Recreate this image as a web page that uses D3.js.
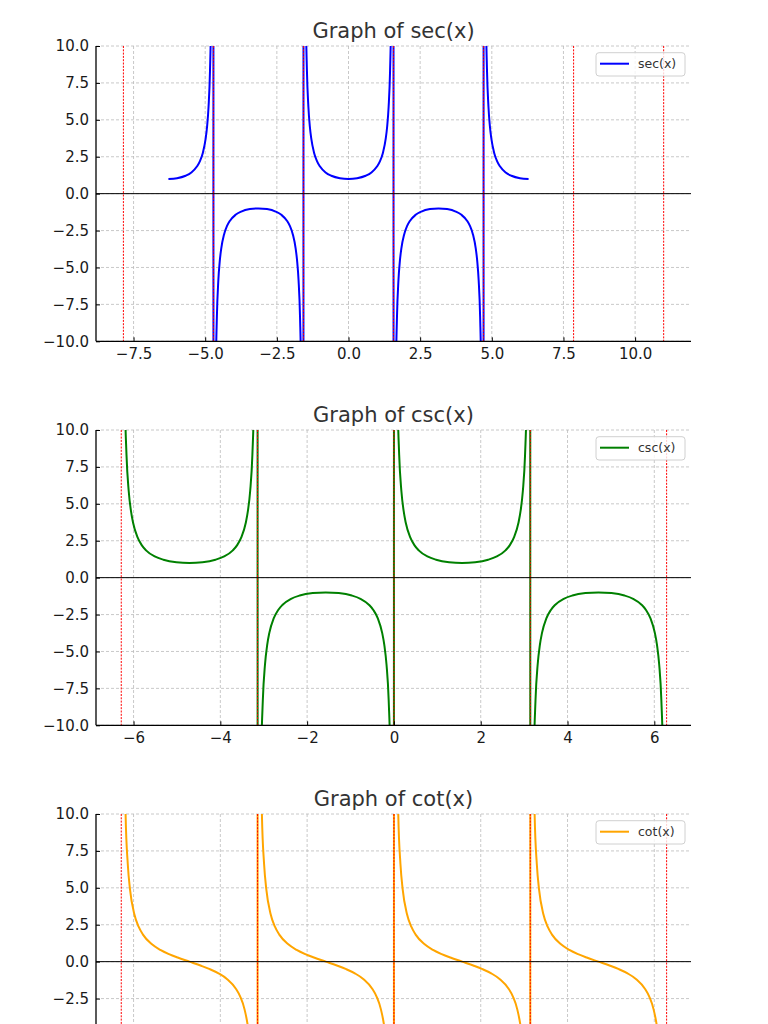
<!DOCTYPE html>
<html>
<head>
<meta charset="utf-8">
<script src="https://cdn.jsdelivr.net/npm/d3@7"></script>
<style>
  html, body { margin: 0; padding: 0; background: #fff; }
  svg { display: block; font-family: "DejaVu Sans", sans-serif; }
</style>
</head>
<body>
<div id="chart"></div>
<script>
// ---------------- data ----------------
const yTicks = [-10, -7.5, -5, -2.5, 0, 2.5, 5, 7.5, 10];
const secXTicks = [-7.5, -5, -2.5, 0, 2.5, 5, 7.5, 10];
const trigXTicks = [-6, -4, -2, 0, 2, 4, 6];

const secAsymptotes = [-7.854, -4.712, -1.571, 1.571, 4.712, 7.854, 10.996];
const cscAsymptotes = [-6.283, -3.142, 0, 3.142, 6.283];
const cotAsymptotes = [-6.283, -3.142, 0, 3.142, 6.283];

const secX = [
  -6.283, -5.983, -5.683, -5.483, -5.283, -5.183, -5.083, -4.983, -4.933, -4.883, -4.833, -4.783, -4.733, -4.718,
  -4.707, -4.692, -4.642, -4.592, -4.542, -4.492, -4.442, -4.342, -4.242, -4.142, -3.942, -3.742, -3.442, -3.142,
  -2.842, -2.542, -2.342, -2.142, -2.042, -1.942, -1.842, -1.792, -1.742, -1.692, -1.642, -1.592, -1.577,
  -1.565, -1.55, -1.5, -1.45, -1.4, -1.35, -1.3, -1.2, -1.1, -1.0, -0.8, -0.6, -0.3, 0,
  0.3, 0.6, 0.8, 1.0, 1.1, 1.2, 1.3, 1.35, 1.4, 1.45, 1.5, 1.55, 1.565,
  1.577, 1.592, 1.642, 1.692, 1.742, 1.792, 1.842, 1.942, 2.042, 2.142, 2.342, 2.542, 2.842, 3.142,
  3.442, 3.742, 3.942, 4.142, 4.242, 4.342, 4.442, 4.492, 4.542, 4.592, 4.642, 4.692, 4.707,
  4.718, 4.733, 4.783, 4.833, 4.883, 4.933, 4.983, 5.083, 5.183, 5.283, 5.483, 5.683, 5.983, 6.283
];
const secY = [
  1, 1.047, 1.212, 1.435, 1.851, 2.205, 2.760, 3.738, 4.566, 5.884, 8.299, 14.14, 48.09, 172.5,
  -172.5, -48.09, -14.14, -8.299, -5.884, -4.566, -3.738, -2.760, -2.205, -1.851, -1.435, -1.212, -1.047, -1,
  -1.047, -1.212, -1.435, -1.851, -2.205, -2.760, -3.738, -4.566, -5.884, -8.299, -14.14, -48.09, -172.5,
  172.5, 48.09, 14.14, 8.299, 5.884, 4.566, 3.738, 2.760, 2.205, 1.851, 1.435, 1.212, 1.047, 1,
  1.047, 1.212, 1.435, 1.851, 2.205, 2.760, 3.738, 4.566, 5.884, 8.299, 14.14, 48.09, 172.5,
  -172.5, -48.09, -14.14, -8.299, -5.884, -4.566, -3.738, -2.760, -2.205, -1.851, -1.435, -1.212, -1.047, -1,
  -1.047, -1.212, -1.435, -1.851, -2.205, -2.760, -3.738, -4.566, -5.884, -8.299, -14.14, -48.09, -172.5,
  172.5, 48.09, 14.14, 8.299, 5.884, 4.566, 3.738, 2.760, 2.205, 1.851, 1.435, 1.212, 1.047, 1
];

const cscX = [
  -6.277, -6.262, -6.212, -6.162, -6.112, -6.062, -6.012, -5.912, -5.812, -5.712, -5.512, -5.312, -5.012, -4.712,
  -4.412, -4.112, -3.912, -3.712, -3.612, -3.512, -3.412, -3.362, -3.312, -3.262, -3.212, -3.162, -3.147,
  -3.136, -3.121, -3.071, -3.021, -2.971, -2.921, -2.871, -2.771, -2.671, -2.571, -2.371, -2.171, -1.871, -1.571,
  -1.271, -0.971, -0.771, -0.571, -0.471, -0.371, -0.271, -0.221, -0.171, -0.121, -0.071, -0.021, -0.006,
  0.006, 0.021, 0.071, 0.121, 0.171, 0.221, 0.271, 0.371, 0.471, 0.571, 0.771, 0.971, 1.271, 1.571,
  1.871, 2.171, 2.371, 2.571, 2.671, 2.771, 2.871, 2.921, 2.971, 3.021, 3.071, 3.121, 3.136,
  3.147, 3.162, 3.212, 3.262, 3.312, 3.362, 3.412, 3.512, 3.612, 3.712, 3.912, 4.112, 4.412, 4.712,
  5.012, 5.312, 5.512, 5.712, 5.812, 5.912, 6.012, 6.062, 6.112, 6.162, 6.212, 6.262, 6.277
];
const cscY = [
  172.5, 48.09, 14.14, 8.299, 5.884, 4.566, 3.738, 2.760, 2.205, 1.851, 1.435, 1.212, 1.047, 1,
  1.047, 1.212, 1.435, 1.851, 2.205, 2.760, 3.738, 4.566, 5.884, 8.299, 14.14, 48.09, 172.5,
  -172.5, -48.09, -14.14, -8.299, -5.884, -4.566, -3.738, -2.760, -2.205, -1.851, -1.435, -1.212, -1.047, -1,
  -1.047, -1.212, -1.435, -1.851, -2.205, -2.760, -3.738, -4.566, -5.884, -8.299, -14.14, -48.09, -172.5,
  172.5, 48.09, 14.14, 8.299, 5.884, 4.566, 3.738, 2.760, 2.205, 1.851, 1.435, 1.212, 1.047, 1,
  1.047, 1.212, 1.435, 1.851, 2.205, 2.760, 3.738, 4.566, 5.884, 8.299, 14.14, 48.09, 172.5,
  -172.5, -48.09, -14.14, -8.299, -5.884, -4.566, -3.738, -2.760, -2.205, -1.851, -1.435, -1.212, -1.047, -1,
  -1.047, -1.212, -1.435, -1.851, -2.205, -2.760, -3.738, -4.566, -5.884, -8.299, -14.14, -48.09, -172.5
];

const cotX = [
  -6.277, -6.263, -6.233, -6.183, -6.133, -6.083, -5.983, -5.883, -5.783, -5.583, -5.383, -5.183, -4.983, -4.712,
  -4.442, -4.242, -4.042, -3.842, -3.642, -3.542, -3.442, -3.342, -3.292, -3.242, -3.192, -3.162, -3.148,
  -3.136, -3.122, -3.092, -3.042, -2.992, -2.942, -2.842, -2.742, -2.642, -2.442, -2.242, -2.042, -1.842, -1.571,
  -1.300, -1.100, -0.900, -0.700, -0.500, -0.400, -0.300, -0.200, -0.150, -0.100, -0.050, -0.020, -0.006,
  0.006, 0.020, 0.050, 0.100, 0.150, 0.200, 0.300, 0.400, 0.500, 0.700, 0.900, 1.100, 1.300, 1.571,
  1.842, 2.042, 2.242, 2.442, 2.642, 2.742, 2.842, 2.942, 2.992, 3.042, 3.092, 3.122, 3.136,
  3.148, 3.162, 3.192, 3.242, 3.292, 3.342, 3.442, 3.542, 3.642, 3.842, 4.042, 4.242, 4.442, 4.712,
  4.983, 5.183, 5.383, 5.583, 5.783, 5.883, 5.983, 6.083, 6.133, 6.183, 6.233, 6.263, 6.277
];
const cotY = [
  166.7, 49.99, 19.98, 9.967, 6.617, 4.933, 3.233, 2.365, 1.830, 1.187, 0.7936, 0.5090, 0.2776, 0,
  -0.2776, -0.5090, -0.7936, -1.187, -1.830, -2.365, -3.233, -4.933, -6.617, -9.967, -19.98, -49.99, -166.7,
  166.7, 49.99, 19.98, 9.967, 6.617, 4.933, 3.233, 2.365, 1.830, 1.187, 0.7936, 0.5090, 0.2776, 0,
  -0.2776, -0.5090, -0.7936, -1.187, -1.830, -2.365, -3.233, -4.933, -6.617, -9.967, -19.98, -49.99, -166.7,
  166.7, 49.99, 19.98, 9.967, 6.617, 4.933, 3.233, 2.365, 1.830, 1.187, 0.7936, 0.5090, 0.2776, 0,
  -0.2776, -0.5090, -0.7936, -1.187, -1.830, -2.365, -3.233, -4.933, -6.617, -9.967, -19.98, -49.99, -166.7,
  166.7, 49.99, 19.98, 9.967, 6.617, 4.933, 3.233, 2.365, 1.830, 1.187, 0.7936, 0.5090, 0.2776, 0,
  -0.2776, -0.5090, -0.7936, -1.187, -1.830, -2.365, -3.233, -4.933, -6.617, -9.967, -19.98, -49.99, -166.7
];

// ---------------- layout ----------------
const W = 768, H = 1024;
const left = 96, right = 691, axH = 295.3;

const panels = [
  { title: "Graph of sec(x)", label: "sec(x)", color: "#0000ff", top: 46,
    xDomain: [-8.81, 11.95], xTicks: secXTicks, xFmt: d3.format(".1f"),
    xs: secX, ys: secY, asym: secAsymptotes, id: "sec" },
  { title: "Graph of csc(x)", label: "csc(x)", color: "#008000", top: 430,
    xDomain: [-6.865, 6.845], xTicks: trigXTicks, xFmt: d3.format("d"),
    xs: cscX, ys: cscY, asym: cscAsymptotes, id: "csc" },
  { title: "Graph of cot(x)", label: "cot(x)", color: "#ffa500", top: 814,
    xDomain: [-6.865, 6.845], xTicks: trigXTicks, xFmt: d3.format("d"),
    xs: cotX, ys: cotY, asym: cotAsymptotes, id: "cot" }
];

const minus = s => s.replace(/-/g, "\u2212");

const svg = d3.select("#chart").append("svg")
  .attr("width", W).attr("height", H)
  .style("overflow", "hidden");
svg.append("rect").attr("width", W).attr("height", H).attr("fill", "#fff");

panels.forEach(p => {
  const top = p.top, bottom = top + axH;
  const x = d3.scaleLinear().domain(p.xDomain).range([left, right]);
  const y = d3.scaleLinear().domain([-10, 10]).range([bottom, top]);
  const g = svg.append("g");

  const clipId = "clip-" + p.id;
  g.append("clipPath").attr("id", clipId)
    .append("rect").attr("x", left).attr("y", top).attr("width", right - left).attr("height", axH);

  // grid
  const grid = g.append("g").attr("stroke", "#b0b0b0").attr("stroke-width", 0.8)
    .attr("stroke-dasharray", "3,2").attr("opacity", 0.85);
  grid.selectAll("line.vx").data(p.xTicks).join("line")
    .attr("x1", d => x(d)).attr("x2", d => x(d)).attr("y1", top).attr("y2", bottom);
  grid.selectAll("line.hy").data(yTicks).join("line")
    .attr("x1", left).attr("x2", right).attr("y1", d => y(d)).attr("y2", d => y(d));

  // curve
  const pts = p.xs.map((v, i) => [v, p.ys[i]]);
  const line = d3.line().x(d => x(d[0])).y(d => y(d[1])).curve(d3.curveMonotoneX);
  g.append("path").attr("clip-path", `url(#${clipId})`)
    .attr("d", line(pts)).attr("fill", "none")
    .attr("stroke", p.color).attr("stroke-width", 2).attr("stroke-linejoin", "round");

  // zero line
  g.append("line").attr("x1", left).attr("x2", right).attr("y1", y(0)).attr("y2", y(0))
    .attr("stroke", "#000").attr("stroke-width", 1);

  // asymptotes
  g.append("g").attr("clip-path", `url(#${clipId})`)
    .selectAll("line").data(p.asym).join("line")
    .attr("x1", d => x(d)).attr("x2", d => x(d)).attr("y1", top).attr("y2", bottom)
    .attr("stroke", "#ff0000").attr("stroke-width", 1).attr("stroke-dasharray", "2,1.3");

  // axes
  const xAxis = d3.axisBottom(x).tickValues(p.xTicks).tickSize(-4).tickPadding(7)
    .tickFormat(d => minus(p.xFmt(d)));
  const gx = g.append("g").attr("transform", `translate(0,${bottom})`).call(xAxis);
  const yAxis = d3.axisLeft(y).tickValues(yTicks).tickSize(-4).tickPadding(7)
    .tickFormat(d => minus(d3.format(".1f")(d)));
  const gy = g.append("g").attr("transform", `translate(${left},0)`).call(yAxis);
  [gx, gy].forEach(a => {
    a.select(".domain").attr("stroke", "#000").attr("stroke-width", 1.3);
    a.selectAll(".tick line").attr("stroke", "#000").attr("stroke-width", 1);
    a.selectAll(".tick text").attr("fill", "#1a1a1a")
      .style("font-family", "'DejaVu Sans', sans-serif").style("font-size", "15px");
  });
  gx.select(".domain").attr("d", `M${left},0H${right}`);
  gy.select(".domain").attr("d", `M0,${top}V${bottom}`);

  // tick labels that fall below the visible page are not shown in the reference
  if (bottom + 20 > H) gx.selectAll(".tick text").remove();
  gy.selectAll(".tick").filter(d => y(d) + 8 > H).select("text").remove();

  // title
  g.append("text").attr("x", (left + right) / 2).attr("y", top - 8.5)
    .attr("text-anchor", "middle").attr("fill", "#333")
    .style("font-size", "21px").text(p.title);

  // legend
  const lg = g.append("g").attr("transform", `translate(596,${top + 6.7})`);
  lg.append("rect").attr("width", 89).attr("height", 23.3).attr("rx", 3)
    .attr("fill", "#fff").attr("fill-opacity", 0.8).attr("stroke", "#d0d0d0").attr("stroke-width", 1);
  lg.append("line").attr("x1", 4).attr("x2", 33).attr("y1", 11).attr("y2", 11)
    .attr("stroke", p.color).attr("stroke-width", 2);
  lg.append("text").attr("x", 42).attr("y", 15.5).attr("fill", "#333")
    .style("font-size", "12.5px").text(p.label);
});
</script>
</body>
</html>
